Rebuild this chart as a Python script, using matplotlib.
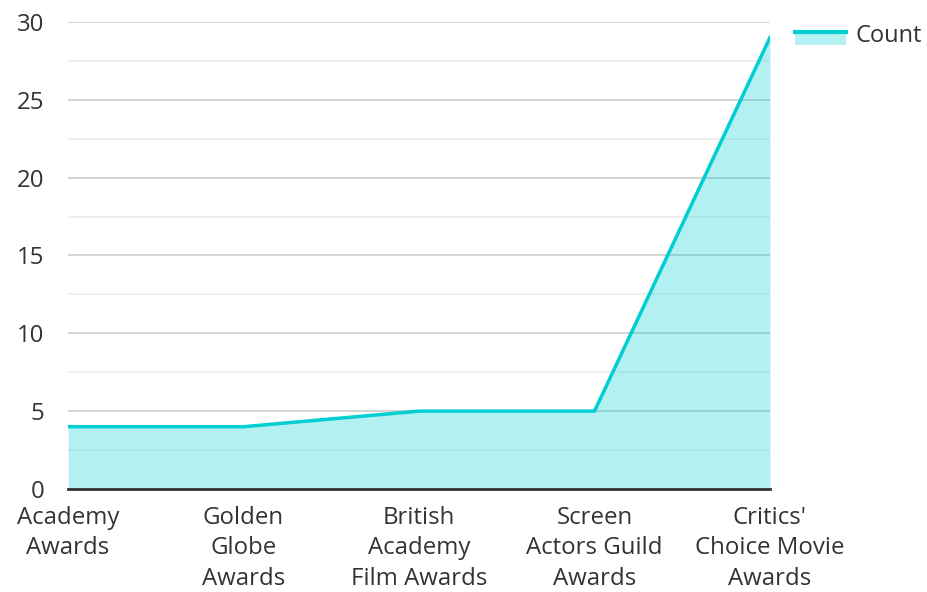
import numpy as np
import matplotlib.pyplot as plt
from matplotlib.lines import Line2D
from matplotlib.patches import Rectangle
from matplotlib.ticker import MultipleLocator

categories = ["Academy\nAwards", "Golden\nGlobe\nAwards", "British\nAcademy\nFilm Awards",
              "Screen\nActors Guild\nAwards", "Critics'\nChoice Movie\nAwards"]
counts = [4, 4, 5, 5, 29]

LINE_COLOR = "#00CED1"
TEXT_COLOR = "#333333"

plt.rcParams['font.family'] = ['Open Sans', 'DejaVu Sans']


class AreaHandler:
    def legend_artist(self, legend, orig_handle, fontsize, handlebox):
        x0, y0 = handlebox.xdescent, handlebox.ydescent
        w, h = handlebox.width, handlebox.height
        rect = Rectangle((x0, y0 - 0.2 * h), w, h * 0.85, facecolor=LINE_COLOR,
                         alpha=0.3, edgecolor='none', transform=handlebox.get_transform())
        line = Line2D([x0, x0 + w], [y0 + 0.6 * h, y0 + 0.6 * h], color=LINE_COLOR,
                      linewidth=3, transform=handlebox.get_transform())
        handlebox.add_artist(rect)
        handlebox.add_artist(line)
        return rect


fig = plt.figure(figsize=(9.27, 5.92), dpi=100)
ax = fig.add_axes([0.0734, 0.174, 0.7572, 0.789])

x = np.arange(len(categories))
ax.fill_between(x, counts, 0, color=LINE_COLOR, alpha=0.3, linewidth=0, zorder=2)
ax.plot(x, counts, color=LINE_COLOR, linewidth=2.5, zorder=3, label="Count")

ax.set_xlim(0, len(categories) - 1)
ax.set_ylim(0, 30)
ax.yaxis.set_major_locator(MultipleLocator(5))
ax.yaxis.set_minor_locator(MultipleLocator(2.5))
ax.grid(True, which='major', axis='y', color='#cccccc', linewidth=1.2, zorder=1)
ax.grid(True, which='minor', axis='y', color='#eeeeee', linewidth=1.2, zorder=1)
ax.set_axisbelow(True)

ax.set_xticks(x)
ax.set_xticklabels(categories, linespacing=1.36)
ax.tick_params(axis='both', which='both', length=0, labelsize=17.3, colors=TEXT_COLOR)
ax.tick_params(axis='y', pad=17)
ax.tick_params(axis='x', pad=12)

for side in ['top', 'right', 'left']:
    ax.spines[side].set_visible(False)
ax.spines['bottom'].set_color(TEXT_COLOR)
ax.spines['bottom'].set_linewidth(2)
ax.spines['bottom'].set_zorder(4)

handle = Line2D([], [], color=LINE_COLOR)
fig.legend([handle], ["Count"], handler_map={Line2D: AreaHandler()},
           loc='upper left', bbox_to_anchor=(795 / 927, 1 - 24 / 592), frameon=False,
           borderpad=0, borderaxespad=0, fontsize=17, handlelength=2.15,
           handletextpad=0.4, labelcolor=TEXT_COLOR)

fig.savefig("out.png", dpi=100)
